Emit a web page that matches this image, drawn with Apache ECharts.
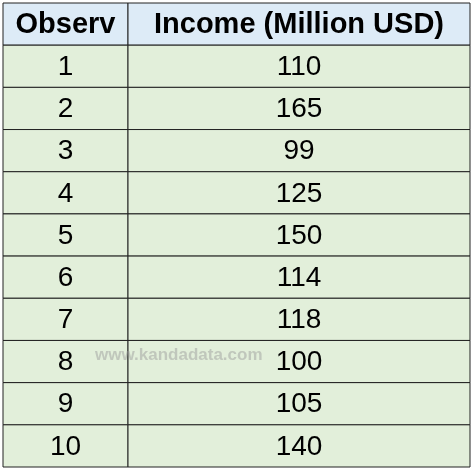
<!DOCTYPE html>
<html><head><meta charset="utf-8">
<script src="https://cdn.jsdelivr.net/npm/echarts@6/dist/echarts.min.js"></script>
<style>html,body{margin:0;padding:0;background:#fff}#c{width:474px;height:471px}</style>
</head><body><div id="c"></div>
<script>
const headers = ['Observ', 'Income (Million USD)'];
const observ = ['1','2','3','4','5','6','7','8','9','10'];
const income = [110,165,99,125,150,114,118,100,105,140];
const rows = ['h'].concat(observ);
const colEdges = [0, 125, 467];
const cells = [];
rows.forEach((r,i)=>{
  for(let c=0;c<2;c++){
    const txt = i===0 ? headers[c] : (c===0 ? observ[i-1] : String(income[i-1]));
    cells.push([c, i, txt]);
  }
});
const chart = echarts.init(document.getElementById('c'));
chart.setOption({
  animation:false,
  grid:{left:3,right:4,top:3,bottom:4},
  xAxis:{type:'value',min:0,max:467,show:false},
  yAxis:{type:'category',data:rows,inverse:true,show:false},
  series:[{
    type:'custom',
    data:cells,
    renderItem:function(params,api){
      const c=api.value(0), r=api.value(1);
      const txt=cells[params.dataIndex][2];
      const p0=api.coord([colEdges[c], r]);
      const p1=api.coord([colEdges[c+1], r]);
      const h=api.size([0,1])[1];
      const x=p0[0], y=p0[1]-h/2, w=p1[0]-p0[0];
      const header=r===0;
      return {type:'group',children:[
        {type:'rect',shape:{x:x,y:y,width:w,height:h},
         style:{fill:header?'#DDEBF7':'#E2EFDA',stroke:'#222',lineWidth:1}},
        {type:'text',z2:5,style:{text:txt,x:x+w/2,y:y+h/2+1,align:'center',verticalAlign:'middle',
          fontSize:header?29:28,fontWeight:header?'bold':'normal',
          fontFamily:'"Liberation Sans", Arial, sans-serif',fill:'#000'}}
      ]};
    }
  }],
  graphic:[{type:'text',left:95,top:347,z:100,style:{text:'www.kandadata.com',
    fontSize:17,fontWeight:'bold',fontFamily:'"Liberation Sans", Arial, sans-serif',
    fill:'rgba(150,150,150,0.45)'}}]
});
</script></body></html>
